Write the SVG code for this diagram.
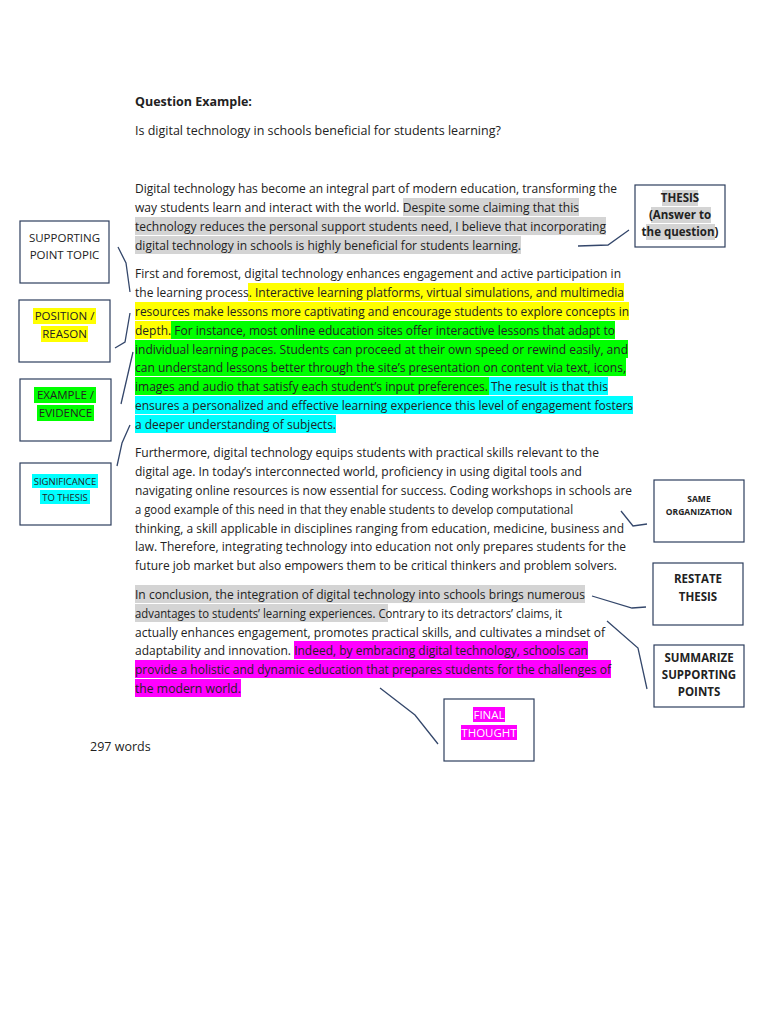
<svg xmlns="http://www.w3.org/2000/svg" width="768" height="1024" viewBox="0 0 768 1024">
<style>
text{font-family:"Open Sans","Liberation Sans",sans-serif;fill:#222}
.b{font-size:12.5px}
.box{fill:#fff;stroke:#2d3e5e;stroke-width:1.2}
.bl{font-size:11.5px;text-anchor:middle}
.bb{font-weight:bold}
.c{fill:none;stroke:#34476b;stroke-width:1.3}
.g{fill:#d4d4d4}.y{fill:#ffff00}.gr{fill:#00ff00}.cy{fill:#00ffff}.m{fill:#ff00ff}
</style>
<rect width="768" height="1024" fill="#fff"/>
<text x="135" y="106" class="b bb">Question Example:</text>
<text x="135" y="135" class="b">Is digital technology in schools beneficial for students learning?</text>
<g id="highlights">
<rect class="g" x="403" y="198" width="176" height="18"/>
<rect class="g" x="135" y="217" width="471" height="18"/>
<rect class="g" x="135" y="236" width="386" height="18"/>
<rect class="y" x="248" y="283" width="376" height="18"/>
<rect class="y" x="135" y="302" width="494" height="18"/>
<rect class="y" x="135" y="321" width="36" height="18"/>
<rect class="gr" x="171" y="321" width="444" height="18"/>
<rect class="gr" x="135" y="340" width="493" height="18"/>
<rect class="gr" x="135" y="358" width="491" height="18"/>
<rect class="gr" x="135" y="377" width="354" height="18"/>
<rect class="cy" x="489" y="377" width="119" height="18"/>
<rect class="cy" x="135" y="396" width="498" height="18"/>
<rect class="cy" x="135" y="415" width="201" height="18"/>
<rect class="g" x="135" y="585" width="450" height="18"/>
<rect class="g" x="135" y="604" width="253" height="18"/>
<rect class="m" x="294" y="641" width="294" height="18"/>
<rect class="m" x="135" y="660" width="476" height="18"/>
<rect class="m" x="135" y="679" width="106" height="18"/>
</g>
<g id="body" class="b">
<text x="135" y="193" textLength="482" lengthAdjust="spacingAndGlyphs">Digital technology has become an integral part of modern education, transforming the</text>
<text x="135" y="212" textLength="444" lengthAdjust="spacingAndGlyphs">way students learn and interact with the world. Despite some claiming that this</text>
<text x="135" y="231" textLength="471" lengthAdjust="spacingAndGlyphs">technology reduces the personal support students need, I believe that incorporating</text>
<text x="135" y="250" textLength="386" lengthAdjust="spacingAndGlyphs">digital technology in schools is highly beneficial for students learning.</text>
<text x="135" y="278" textLength="486" lengthAdjust="spacingAndGlyphs">First and foremost, digital technology enhances engagement and active participation in</text>
<text x="135" y="297" textLength="489" lengthAdjust="spacingAndGlyphs">the learning process. Interactive learning platforms, virtual simulations, and multimedia</text>
<text x="135" y="316" textLength="494" lengthAdjust="spacingAndGlyphs">resources make lessons more captivating and encourage students to explore concepts in</text>
<text x="135" y="335" textLength="480" lengthAdjust="spacingAndGlyphs">depth. For instance, most online education sites offer interactive lessons that adapt to</text>
<text x="135" y="354" textLength="493" lengthAdjust="spacingAndGlyphs">individual learning paces. Students can proceed at their own speed or rewind easily, and</text>
<text x="135" y="372" textLength="491" lengthAdjust="spacingAndGlyphs">can understand lessons better through the site’s presentation on content via text, icons,</text>
<text x="135" y="391" textLength="473" lengthAdjust="spacingAndGlyphs">images and audio that satisfy each student’s input preferences. The result is that this</text>
<text x="135" y="410" textLength="498" lengthAdjust="spacingAndGlyphs">ensures a personalized and effective learning experience this level of engagement fosters</text>
<text x="135" y="429" textLength="201" lengthAdjust="spacingAndGlyphs">a deeper understanding of subjects.</text>
<text x="135" y="457" textLength="464" lengthAdjust="spacingAndGlyphs">Furthermore, digital technology equips students with practical skills relevant to the</text>
<text x="135" y="476" textLength="447" lengthAdjust="spacingAndGlyphs">digital age. In today’s interconnected world, proficiency in using digital tools and</text>
<text x="135" y="495" textLength="497" lengthAdjust="spacingAndGlyphs">navigating online resources is now essential for success. Coding workshops in schools are</text>
<text x="135" y="514" textLength="438" lengthAdjust="spacingAndGlyphs">a good example of this need in that they enable students to develop computational</text>
<text x="135" y="533" textLength="489" lengthAdjust="spacingAndGlyphs">thinking, a skill applicable in disciplines ranging from education, medicine, business and</text>
<text x="135" y="551" textLength="491" lengthAdjust="spacingAndGlyphs">law. Therefore, integrating technology into education not only prepares students for the</text>
<text x="135" y="570" textLength="482" lengthAdjust="spacingAndGlyphs">future job market but also empowers them to be critical thinkers and problem solvers.</text>
<text x="135" y="599" textLength="450" lengthAdjust="spacingAndGlyphs">In conclusion, the integration of digital technology into schools brings numerous</text>
<text x="135" y="618" textLength="427" lengthAdjust="spacingAndGlyphs">advantages to students’ learning experiences. Contrary to its detractors’ claims, it</text>
<text x="135" y="637" textLength="470" lengthAdjust="spacingAndGlyphs">actually enhances engagement, promotes practical skills, and cultivates a mindset of</text>
<text x="135" y="655" textLength="453" lengthAdjust="spacingAndGlyphs">adaptability and innovation. Indeed, by embracing digital technology, schools can</text>
<text x="135" y="674" textLength="476" lengthAdjust="spacingAndGlyphs">provide a holistic and dynamic education that prepares students for the challenges of</text>
<text x="135" y="693" textLength="106" lengthAdjust="spacingAndGlyphs">the modern world.</text>
</g>
<text x="90" y="751" class="b">297 words</text>
<g id="connectors">
<polyline class="c" points="118,247 126,263 130,292"/>
<polyline class="c" points="115,348 125,342 130,313"/>
<polyline class="c" points="121,404 133,352"/>
<polyline class="c" points="117,466 122,443 130,425"/>
<polyline class="c" points="578,246 608,245 629,230"/>
<polyline class="c" points="621,511 633,526 647,524"/>
<polyline class="c" points="592,596 632,608 646,607"/>
<polyline class="c" points="607,621 638,648 647,689"/>
<polyline class="c" points="380,688 415,715 438,744"/>
</g>
<g id="n-supporting"><rect class="box" x="20" y="221" width="89" height="62"/>
<text class="bl" x="64.5" y="242">SUPPORTING</text><text class="bl" x="64.5" y="259">POINT TOPIC</text></g>
<g id="n-position"><rect class="box" x="19" y="300" width="91" height="62"/>
<rect class="y" x="33" y="308" width="63" height="16"/><rect class="y" x="41" y="326" width="47" height="16"/>
<text class="bl" x="64.5" y="320">POSITION /</text><text class="bl" x="64.5" y="338">REASON</text></g>
<g id="n-example"><rect class="box" x="20" y="379" width="91" height="62"/>
<rect class="gr" x="34" y="387" width="62" height="16"/><rect class="gr" x="37" y="405" width="57" height="16"/>
<text class="bl" x="65.5" y="399">EXAMPLE /</text><text class="bl" x="65.5" y="417">EVIDENCE</text></g>
<g id="n-significance"><rect class="box" x="20" y="463" width="91" height="62"/>
<rect class="cy" x="32" y="474" width="66" height="14"/><rect class="cy" x="40" y="490" width="50" height="14"/>
<text class="bl" x="65" y="485" style="font-size:9.5px">SIGNIFICANCE</text><text class="bl" x="65" y="501" style="font-size:9.5px">TO THESIS</text></g>
<g id="n-thesis"><rect class="box" x="635" y="185" width="90" height="62"/>
<rect class="g" x="662" y="190" width="36" height="16"/><rect class="g" x="651" y="207" width="60" height="16"/><rect class="g" x="646" y="224" width="69" height="16"/>
<text class="bl bb" x="680" y="202">THESIS</text><text class="bl bb" x="680" y="219">(Answer to</text><text class="bl bb" x="680" y="236">the question)</text></g>
<g id="n-same"><rect class="box" x="654" y="480" width="90" height="62"/>
<text class="bl bb" x="699" y="502" style="font-size:8.5px">SAME</text><text class="bl bb" x="699" y="515" style="font-size:8.5px">ORGANIZATION</text></g>
<g id="n-restate"><rect class="box" x="653" y="563" width="90" height="62"/>
<text class="bl bb" x="698" y="583">RESTATE</text><text class="bl bb" x="698" y="601">THESIS</text></g>
<g id="n-summarize"><rect class="box" x="654" y="645" width="90" height="62"/>
<text class="bl bb" x="699" y="662">SUMMARIZE</text><text class="bl bb" x="699" y="679">SUPPORTING</text><text class="bl bb" x="699" y="696">POINTS</text></g>
<g id="n-final"><rect class="box" x="444" y="699" width="90" height="62"/>
<rect class="m" x="473" y="707" width="32" height="15"/><rect class="m" x="461" y="725" width="56" height="15"/>
<text class="bl" x="489" y="719" style="fill:#fff">FINAL</text><text class="bl" x="489" y="737" style="fill:#fff">THOUGHT</text></g>
</svg>
